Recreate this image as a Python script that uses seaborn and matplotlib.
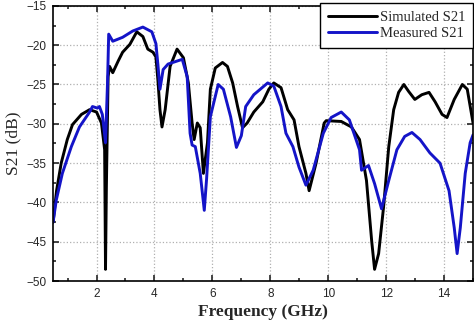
import matplotlib
matplotlib.use("Agg")
import matplotlib.pyplot as plt
from matplotlib.ticker import MultipleLocator
import seaborn as sns
import pandas as pd

sim_f = [0.5, 0.62, 0.78, 0.99, 1.17, 1.48, 1.76, 2.0, 2.17, 2.28, 2.31, 2.34, 2.40, 2.45, 2.56, 2.75,
         2.9, 3.15, 3.39, 3.6, 3.77, 3.95, 4.05, 4.12, 4.19, 4.26, 4.37, 4.54, 4.78, 5.0, 5.17, 5.3,
         5.37, 5.48, 5.58, 5.69, 5.83, 5.93, 6.1, 6.35, 6.52, 6.7, 6.87, 7.04, 7.2, 7.43, 7.74, 7.95,
         8.12, 8.37, 8.6, 8.82, 8.99, 9.23, 9.34, 9.58, 9.86, 9.93, 10.45, 10.8, 11.08, 11.32, 11.5,
         11.6, 11.74, 11.91, 12.09, 12.26, 12.43, 12.61, 12.78, 12.99, 13.23, 13.48, 13.69, 13.93,
         14.1, 14.35, 14.63, 14.8, 15.0]
sim_db = [-42.5, -38.5, -35, -32, -30.1, -28.8, -28.2, -28.5, -29.9, -33.3, -48.5, -38, -24, -22.7,
          -23.5, -22.0, -20.9, -19.9, -18.3, -18.9, -20.5, -20.9, -21.5, -24.5, -28.2, -30.4, -28.2,
          -22.7, -20.5, -21.6, -24.8, -29.9, -32, -29.9, -30.5, -36.3, -32.4, -25.6, -22.9, -22.2,
          -22.7, -24.8, -27.8, -30.5, -29.9, -28.5, -27.2, -25.6, -24.8, -25.4, -28.2, -29.5, -32.9,
          -36.3, -38.5, -35, -29.9, -29.6, -29.7, -30.4, -32, -37.2, -44.9, -48.5, -46.5, -40.6,
          -32.9, -28.2, -26, -25, -25.9, -26.9, -26.3, -26, -27.2, -28.8, -29.2, -26.9, -25, -25.6,
          -29.9]

meas_f = [0.5, 0.61, 0.82, 1.13, 1.41, 1.76, 1.86, 2.03, 2.1, 2.2, 2.31, 2.38, 2.42, 2.56, 2.9,
          3.25, 3.6, 3.91, 4.05, 4.12, 4.19, 4.3, 4.47, 4.96, 5.13, 5.23, 5.3, 5.41, 5.58, 5.72,
          5.8, 5.93, 6.2, 6.38, 6.63, 6.83, 7.0, 7.15, 7.43, 7.91, 8.12, 8.37, 8.54, 8.78, 8.99,
          9.23, 9.48, 9.83, 10.1, 10.45, 10.73, 11.08, 11.15, 11.39, 11.6, 11.84, 12.09, 12.37,
          12.64, 12.89, 13.17, 13.51, 13.86, 14.17, 14.35, 14.45, 14.56, 14.73, 14.9, 15.0]
meas_db = [-42.5, -39.7, -36.3, -32.9, -30.4, -28.5, -27.8, -28, -27.8, -28.8, -32.4, -24.7, -18.6,
           -19.5, -19, -18.2, -17.7, -18.3, -19.8, -22.5, -25.6, -23.1, -22.4, -21.8, -24, -31.2,
           -32.7, -32.9, -36.3, -41, -37, -29.1, -25, -25.6, -29.1, -33, -31.5, -27.8, -26.3,
           -24.8, -25.2, -27.8, -31.2, -32.9, -35.5, -37.8, -35.9, -31.2, -29.2, -28.5, -29.5,
           -33.3, -35.9, -35.3, -37.6, -40.8, -37.2, -33.3, -31.6, -31.1, -32, -33.7, -35, -38.5,
           -43.2, -46.5, -43.2, -36.3, -32.4, -31.4]

series_names = ["Simulated S21", "Measured S21"]
series_colors = ["#000000", "#1414c8"]
x_ticks = [2, 4, 6, 8, 10, 12, 14]
y_ticks = [-15, -20, -25, -30, -35, -40, -45, -50]

df = pd.concat([
    pd.DataFrame({"f": sim_f, "s21": sim_db, "series": series_names[0]}),
    pd.DataFrame({"f": meas_f, "s21": meas_db, "series": series_names[1]}),
], ignore_index=True)

sns.set_style("ticks")
plt.rcParams["font.family"] = ["Liberation Sans", "DejaVu Sans"]

fig = plt.figure(figsize=(4.74, 3.25), dpi=100)
ax = fig.add_axes([0.112, 0.135, 0.886, 0.847])

sns.lineplot(data=df, x="f", y="s21", hue="series", hue_order=series_names,
             palette=dict(zip(series_names, series_colors)), sort=False, estimator=None,
             linewidth=2.1, ax=ax)

ax.set_xlim(0.5, 15)
ax.set_ylim(-50, -15)
ax.set_xticks(x_ticks)
ax.set_yticks(y_ticks)
ax.xaxis.set_minor_locator(MultipleLocator(1))
ax.yaxis.set_minor_locator(MultipleLocator(2.5))
ax.tick_params(which="both", direction="in", top=True, right=True, labelsize=8.5, width=1.2)
ax.tick_params(which="major", length=4, pad=5)
ax.tick_params(which="minor", length=2.5)
ax.grid(True, which="major", linestyle=":", color="#b0b0b0", linewidth=0.9)
for s in ax.spines.values():
    s.set_linewidth(1.2)
    s.set_color("black")

ax.set_xlabel("Frequency (GHz)", family="Liberation Serif", fontsize=12.5, fontweight="bold", labelpad=3)
ax.set_ylabel("S21 (dB)", family="Liberation Serif", fontsize=12.5, labelpad=3)

leg = ax.legend(loc="upper right", bbox_to_anchor=(1.0, 1.01),
                prop={"family": "Liberation Serif", "size": 10.5},
                frameon=True, fancybox=False, edgecolor="black", framealpha=1,
                handlelength=3.3, borderaxespad=0.0, borderpad=0.55,
                labelspacing=0.15, handletextpad=0.2)
leg.get_frame().set_linewidth(1.0)
leg.set_title(None)

fig.savefig("out.png", dpi=100)
